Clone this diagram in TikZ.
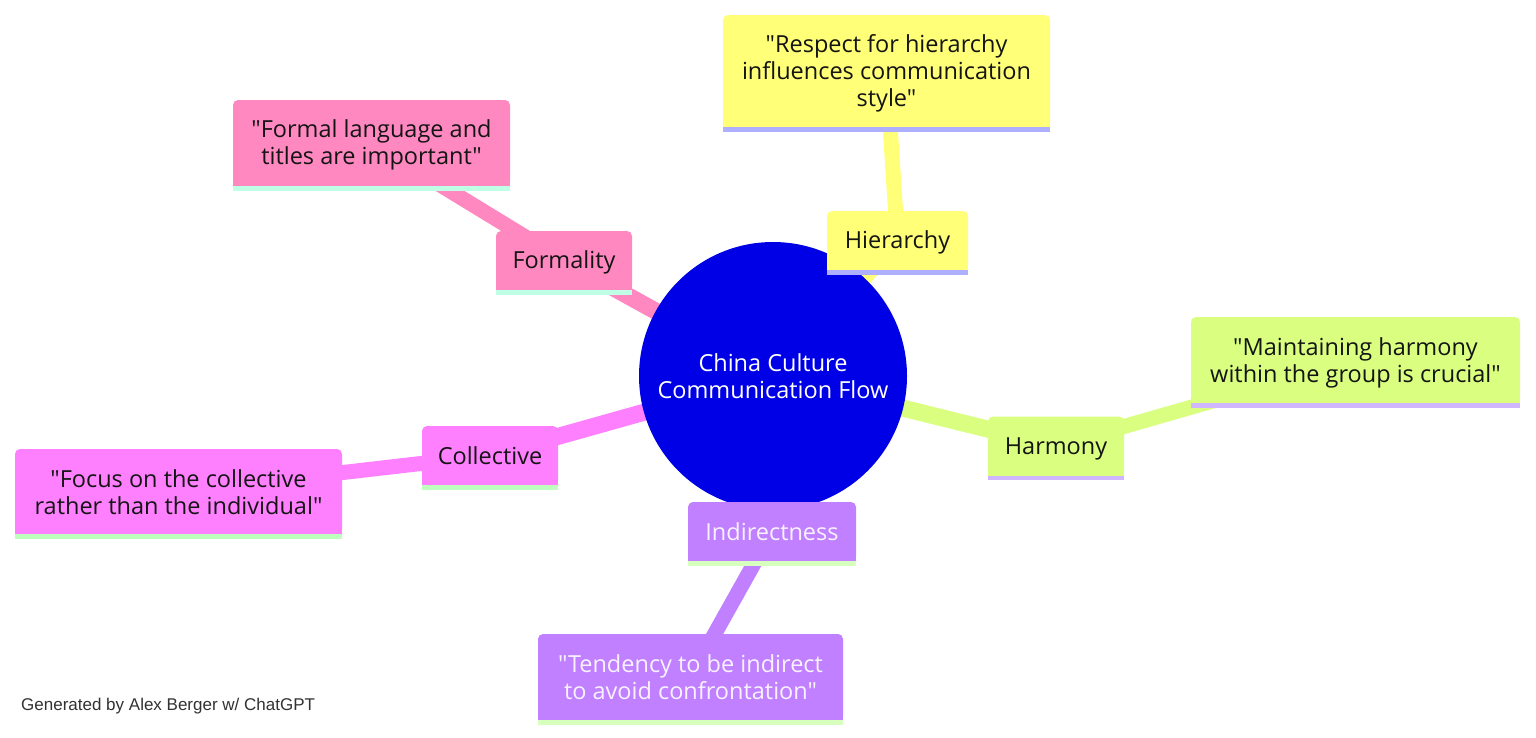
\documentclass[tikz,border=0pt]{standalone}
\usepackage{fontspec}
\setmainfont{Open Sans}[Ligatures=TeXOff]
\newfontfamily\footfont{Liberation Sans}
\pgfdeclarelayer{background}
\pgfsetlayers{background,main}
\definecolor{rootblue}{RGB}{0,0,230}
\definecolor{hyel}{RGB}{255,255,120}
\definecolor{hyelline}{RGB}{175,175,255}
\definecolor{fpink}{RGB}{255,136,192}
\definecolor{fpinkline}{RGB}{190,255,230}
\definecolor{hgreen}{RGB}{218,255,128}
\definecolor{hgreenline}{RGB}{208,182,255}
\definecolor{cmag}{RGB}{255,128,255}
\definecolor{cmagline}{RGB}{190,255,190}
\definecolor{ipurp}{RGB}{192,128,255}
\definecolor{ipurpline}{RGB}{215,255,190}
\definecolor{inktext}{RGB}{20,20,20}
\definecolor{lighttext}{RGB}{248,242,255}
\definecolor{footgray}{RGB}{50,50,50}
\tikzset{
  mmbox/.style={rounded corners=5pt, inner sep=0pt},
  smallbox/.style={mmbox, minimum height=59pt},
  mmtext/.style={inner sep=0pt, align=center, text=inktext,
    font=\fontsize{23.5}{27}\selectfont},
  rootedge/.style={line width=17pt},
  leafedge/.style={line width=15pt},
}
\newcommand\boxfix[3]{%
  \fill[#2] ([yshift=6pt]#1.south west) rectangle (#1.south east);
  \fill[#3] (#1.south west) rectangle ([yshift=-4.5pt]#1.south east);
}
\begin{document}
\begin{tikzpicture}[x=1pt,y=-1pt]
\useasboundingbox (0,0) rectangle (1536,737);

\node[circle, fill=rootblue, minimum size=268pt, inner sep=0pt, text=white, align=center,
  font=\fontsize{23.5}{27}\selectfont] (root) at (773,376) {China Culture\\Communication Flow};

% level 1
\node[smallbox, fill=hyel, minimum width=141pt] (hier) at (897.5,240.5) {};
\boxfix{hier}{hyel}{hyelline}
\node[mmtext] (hiert) at ([yshift=-2pt]hier.center) {Hierarchy};
\node[smallbox, fill=fpink, minimum width=136pt] (form) at (564,260.5) {};
\boxfix{form}{fpink}{fpinkline}
\node[mmtext] (formt) at ([yshift=-2pt]form.center) {Formality};
\node[smallbox, fill=hgreen, minimum width=136pt] (harm) at (1056,446) {};
\boxfix{harm}{hgreen}{hgreenline}
\node[mmtext] (harmt) at ([yshift=-2.5pt]harm.center) {Harmony};
\node[smallbox, fill=cmag, minimum width=136pt] (coll) at (490,455.5) {};
\boxfix{coll}{cmag}{cmagline}
\node[mmtext] (collt) at ([yshift=-0.5pt]coll.center) {Collective};
\node[smallbox, fill=ipurp, minimum width=168pt] (indi) at (772,531.5) {};
\boxfix{indi}{ipurp}{ipurpline}
\node[mmtext, text=lighttext] (indit) at ([yshift=0pt]indi.center) {Indirectness};

% level 2
\node[mmbox, fill=hyel, minimum width=327pt, minimum height=112pt] (hierq) at (886.5,71) {};
\boxfix{hierq}{hyel}{hyelline}
\node[mmtext] (hierqt) at ([yshift=-2pt]hierq.center)
  {"Respect for hierarchy\\influences communication\\style"};
\node[mmbox, fill=fpink, minimum width=277pt, minimum height=86pt] (formq) at (371.5,143) {};
\boxfix{formq}{fpink}{fpinkline}
\node[mmtext] (formqt) at ([yshift=-1.5pt]formq.center)
  {"Formal language and\\titles are important"};
\node[mmbox, fill=hgreen, minimum width=329pt, minimum height=86pt] (harmq) at (1355.5,360) {};
\boxfix{harmq}{hgreen}{hgreenline}
\node[mmtext] (harmqt) at ([yshift=-3pt]harmq.center)
  {"Maintaining harmony\\within the group is crucial"};
\node[mmbox, fill=cmag, minimum width=327pt, minimum height=85pt] (collq) at (178.5,491.5) {};
\boxfix{collq}{cmag}{cmagline}
\node[mmtext] (collqt) at ([yshift=-1pt]collq.center)
  {"Focus on the collective\\rather than the individual"};
\node[mmbox, fill=ipurp, minimum width=305pt, minimum height=86pt] (indiq) at (690.5,677) {};
\boxfix{indiq}{ipurp}{ipurpline}
\node[mmtext, text=lighttext] (indiqt) at ([yshift=-0.5pt]indiq.center)
  {"Tendency to be indirect\\to avoid confrontation"};

\node[anchor=base west, inner sep=0pt, text=footgray, font=\footfont\fontsize{17}{19}\selectfont]
  (foot) at (21,710) {Generated by Alex Berger w/ ChatGPT};

\begin{pgfonlayer}{background}
  \fill[white] (0,0) rectangle (1536,737);
  \draw[rootedge, hyel] (root.center) -- (hier.center);
  \draw[rootedge, fpink] (root.center) -- (form.center);
  \draw[rootedge, hgreen] (root.center) -- (harm.center);
  \draw[rootedge, cmag] (root.center) -- (coll.center);
  \draw[rootedge, ipurp] (root.center) -- (indi.center);
  \draw[leafedge, hyel] (hier.center) -- (hierq.center);
  \draw[leafedge, fpink] (form.center) -- (formq.center);
  \draw[leafedge, hgreen] (harm.center) -- (harmq.center);
  \draw[leafedge, cmag] (coll.center) -- (collq.center);
  \draw[leafedge, ipurp] (indi.center) -- (indiq.center);
\end{pgfonlayer}
\end{tikzpicture}
\end{document}
